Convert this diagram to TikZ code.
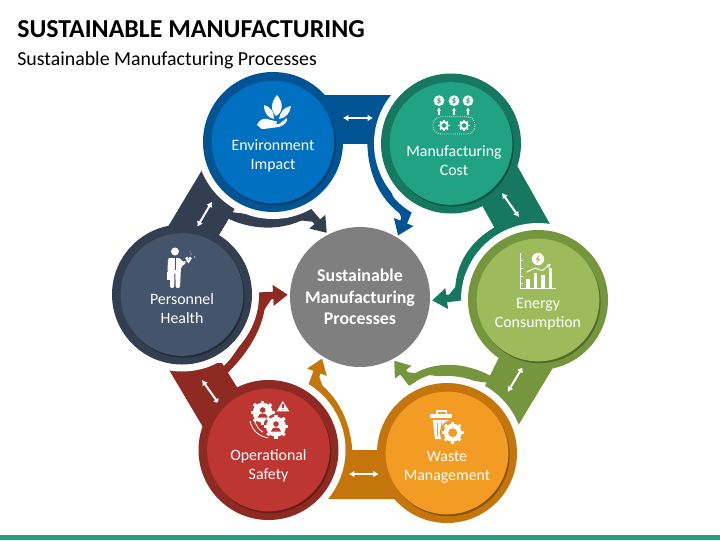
\documentclass[tikz,border=0pt]{standalone}
\usepackage{fontspec}
\setmainfont{Carlito}
\usepackage{xcolor}
\definecolor{blueedge}{HTML}{005493}
\definecolor{bluefill}{HTML}{0070C0}
\definecolor{tealedge}{HTML}{167860}
\definecolor{tealfill}{HTML}{21A383}
\definecolor{oliveedge}{HTML}{76963E}
\definecolor{olivefill}{HTML}{9DBB5B}
\definecolor{amberedge}{HTML}{C4760C}
\definecolor{amberfill}{HTML}{F39C24}
\definecolor{rededge}{HTML}{8F2A22}
\definecolor{redfill}{HTML}{BE3631}
\definecolor{navyedge}{HTML}{333F50}
\definecolor{navyfill}{HTML}{44546A}
\definecolor{hubgray}{HTML}{7F7F7F}
\usetikzlibrary{arrows.meta, shadows}
\newcommand{\gearmark}[4]{%
	\foreach \a in {0,45,...,315}
		\draw[white, line width=#3*.24pt] (#1,#2) -- ++(\a:#3*1.22);
	\fill[white] (#1,#2) circle (#3);
	\fill[#4] (#1,#2) circle (#3*.5);}

\begin{document}
\begin{tikzpicture}[
	x=.75pt, y=-.75pt,
	hub/.style={circle, fill=hubgray, text=white, minimum size=105pt, inner sep=0pt, align=center,
	            font=\fontsize{13.4}{16.2}\selectfont\bfseries},
	rim/.style={circle, minimum size=105pt, inner sep=0pt},
	disc/.style={circle, minimum size=92pt, inner sep=0pt,
	             drop shadow={shadow xshift=1pt, shadow yshift=-1.4pt, fill=black, opacity=.3}},
	tag/.style={text=white, align=center, inner sep=0pt, font=\fontsize{11.9}{14.3}\selectfont},
	halo/.style={fill=white},
	flow/.style={line width=5.6pt, -{Triangle[length=11pt, width=15pt]}, shorten >=1.5pt},
	duplex/.style={{Latex[length=4pt, width=5pt]}-{Latex[length=4pt, width=5pt]}, white, line width=1.5pt}
	]
\useasboundingbox (0,0) rectangle (720,540);

\coordinate (envpt) at (273,142);
\coordinate (manpt) at (451,143.5);
\coordinate (enept) at (538,300);
\coordinate (waspt) at (447,453);
\coordinate (opspt) at (268.5,450);
\coordinate (perpt) at (182,294.5);

\node[anchor=west, inner sep=0pt, font=\fontsize{19.4}{22}\selectfont\bfseries] (heading) at (17,29) {SUSTAINABLE MANUFACTURING};
\node[anchor=west, inner sep=0pt, font=\fontsize{14.9}{16}\selectfont] (subheading) at (17,60) {Sustainable Manufacturing Processes};
\fill[tealfill] (0,535) rectangle (720,540);

\node[hub] (centre) at (360,297) {Sustainable\\Manufacturing\\Processes};

% blue
\fill[blueedge] (318,95) -- (396,95) -- (396,144) -- (318,144) -- cycle;
\coordinate (b1) at (371,140);
\coordinate (b2) at (407,214);
\draw[flow, draw=blueedge, fill=blueedge] (b1) .. controls (371,175) and (385,200) .. (b2) -- (centre.58);
\fill[halo] (manpt) circle (77);
% teal
\fill[tealedge] (478,198) -- (510,153) -- (555,233) -- (499,236) -- cycle;
\coordinate (t1) at (505,226);
\coordinate (t2) at (459,297);
\draw[flow, draw=tealedge, fill=tealedge] (t1) .. controls (475,240) and (457,265) .. (t2) -- (centre.-3);
\fill[halo] (enept) circle (77);
% olive
\fill[oliveedge] (505,345) -- (560,356) -- (513,434) -- (482,392) -- cycle;
\coordinate (o1) at (497,384);
\coordinate (o2) at (410,381);
\draw[flow, draw=oliveedge, fill=oliveedge] (o1) .. controls (470,366) and (435,362) .. (o2) -- (centre.-62);
\fill[halo] (waspt) circle (77);
% amber
\fill[amberedge] (345,450) -- (400,450) -- (400,499) -- (320,499) -- cycle;
\coordinate (a1) at (349,460);
\coordinate (a2) at (313,383);
\draw[flow, draw=amberedge, fill=amberedge] (a1) .. controls (349,425) and (335,398) .. (a2) -- (centre.-122);
\fill[halo] (opspt) circle (77);
% red
\fill[rededge] (165,363) -- (222,363) -- (248,405) -- (210,439) -- cycle;
\coordinate (r1) at (219,376);
\coordinate (r2) at (262,296);
\draw[flow, draw=rededge, fill=rededge] (r1) .. controls (245,352) and (262,325) .. (r2) -- (centre.178);
\fill[halo] (perpt) circle (77);
% navy
\fill[navyedge] (160,240) -- (208,160) -- (240,200) -- (210,250) -- cycle;
\coordinate (n1) at (222,211);
\coordinate (n2) at (309,212);
\draw[flow, draw=navyedge, fill=navyedge] (n1) .. controls (250,228) and (285,228) .. (n2) -- (centre.117);
\fill[halo] (envpt) circle (77);
\fill[blueedge] (318,95) rectangle (355,144);

\coordinate (s1a) at (343,118); \coordinate (s1b) at (373,118);
\coordinate (s2a) at (502,193); \coordinate (s2b) at (519,217);
\coordinate (s3a) at (522.7,367); \coordinate (s3b) at (507.7,392);
\coordinate (s4a) at (349,474); \coordinate (s4b) at (378.7,474);
\coordinate (s5a) at (202,380); \coordinate (s5b) at (219,404);
\coordinate (s6a) at (197.3,226.7); \coordinate (s6b) at (212,201.7);
\draw[duplex] (s1a) -- (s1b);
\draw[duplex] (s2a) -- (s2b);
\draw[duplex] (s3a) -- (s3b);
\draw[duplex] (s4a) -- (s4b);
\draw[duplex] (s5a) -- (s5b);
\draw[duplex] (s6a) -- (s6b);

\node[rim, fill=blueedge] (envrim) at (envpt) {};
\node[disc, fill=bluefill] (envdisc) at (envpt) {};
\node[tag] (envtag) at (273,155.5) {Environment\\Impact};
\node[rim, fill=tealedge] (manrim) at (manpt) {};
\node[disc, fill=tealfill] (mandisc) at (manpt) {};
\node[tag] (mantag) at (454,160.5) {Manufacturing\\Cost};
\node[rim, fill=oliveedge] (enerim) at (enept) {};
\node[disc, fill=olivefill] (enedisc) at (enept) {};
\node[tag] (enetag) at (538,314.5) {Energy\\Consumption};
\node[rim, fill=amberedge] (wasrim) at (waspt) {};
\node[disc, fill=amberfill] (wasdisc) at (waspt) {};
\node[tag] (wastag) at (447,467.5) {Waste\\Management};
\node[rim, fill=rededge] (opsrim) at (opspt) {};
\node[disc, fill=redfill] (opsdisc) at (opspt) {};
\node[tag] (opstag) at (268.5,465.5) {Operational\\Safety};
\node[rim, fill=navyedge] (perrim) at (perpt) {};
\node[disc, fill=navyfill] (perdisc) at (perpt) {};
\node[tag] (pertag) at (182,308.5) {Personnel\\Health};

% environment icon
\fill[white] (277,95) .. controls (270,103) and (271,112) .. (276,116) .. controls (283,112) and (284,103) .. (277,95);
\fill[white] (264,105) .. controls (264,113) and (268,118) .. (274,119) .. controls (274,112) and (271,107) .. (264,105);
\fill[white] (291,106) .. controls (284,107) and (280,112) .. (279,119) .. controls (286,118) and (290,113) .. (291,106);
\fill[white] (257,125) .. controls (259,120) and (263,118) .. (267,119) -- (275,121) .. controls (278,121) and (278,124) .. (274,124) -- (279,124) -- (287,118) .. controls (288,122) and (284,125) .. (279,127) -- (263,129) -- (261,128.5) -- cycle;
% manufacturing icon
\foreach \x in {439,454,468} {
	\fill[white] (\x,100.7) circle (5.4);
	\node[text=tealfill, inner sep=0pt, font=\fontsize{6.5}{7}\selectfont\bfseries] (coin\x) at (\x,100.7) {\$};
	\draw[white, line width=.8pt, -{Latex[length=2.4pt, width=3.4pt]}] (\x,114.5) -- (\x,107.5);
}
\draw[white, densely dotted, line width=.6pt, rounded corners=6pt] (433,116.7) rectangle (475,134);
\gearmark{444}{125.5}{4.6}{tealfill}
\gearmark{464}{125.5}{4.6}{tealfill}
% energy icon
\draw[white, line width=.7pt] (520.7,253) -- (520.7,288) -- (556,288);
\foreach \y in {260,268,276,283}
	\draw[white, line width=.5pt] (520.7,\y) -- (522.5,\y);
\fill[white] (526,279) rectangle (530,288);
\fill[white] (533.5,272.7) rectangle (537.3,288);
\fill[white] (540.7,275) rectangle (544.7,288);
\fill[white] (548.5,268) rectangle (552.3,288);
\draw[white, line width=.7pt, -{Latex[length=3pt, width=3.4pt]}] (527,272) -- (535,268) -- (542,270.5) -- (551,264);
\fill[white] (538,259) circle (6.2);
\fill[olivefill] (539.5,254.5) -- (535.5,259.5) -- (538,259.5) -- (536.5,263.5) -- (540.5,258.5) -- (538,258.5) -- cycle;
% waste icon
\draw[white, line width=.9pt] (437,414) -- (437,411) -- (446.5,411) -- (446.5,414);
\fill[white] (430,414) rectangle (451.7,418.3);
\fill[white] (432.7,420) -- (449,420) -- (446,439) -- (435,439) -- cycle;
\foreach \x in {437,441,445}
	\draw[amberfill, line width=.7pt] (\x,423) -- (\x,436);
\fill[amberfill] (452.7,432.7) circle (13);
\gearmark{452.7}{432.7}{9}{amberfill}
% safety icon
\gearmark{262.7}{412.7}{10}{redfill}
\fill[white] (262.7,412.7) circle (7);
\fill[redfill] (262.7,410) circle (2.8);
\fill[redfill] (257.7,417.5) .. controls (258,412) and (267.4,412) .. (267.7,417.5) -- cycle;
\fill[redfill] (276,426.7) circle (12.6);
\gearmark{276}{426.7}{10}{redfill}
\fill[white] (276,426.7) circle (7);
\fill[redfill] (276,424) circle (2.8);
\fill[redfill] (271,431.5) .. controls (271.3,426) and (280.7,426) .. (281,431.5) -- cycle;
\fill[white] (276.7,411.3) -- (282.7,401) -- (289.3,411.3) -- cycle;
\draw[redfill, line width=.9pt] (282.9,404) -- (282.9,408);
\fill[redfill] (282.9,409.6) circle (.7);
\draw[white, line width=.6pt] (250,421) .. controls (252,430) and (258,436) .. (268,438);
\draw[white, line width=.6pt] (255,422) .. controls (257,427) and (259,430) .. (263,432);
% personnel icon
\fill[white] (175,251.5) circle (4);
\fill[white, rounded corners=1.5pt] (168,258) -- (181,258) -- (182,262) -- (186,260.5) -- (186.5,263) -- (181,266.5) -- (180,288) -- (175.6,288) -- (175.4,272) -- (174.4,272) -- (174.2,288) -- (170,288) -- (170,273) -- (167.5,273) -- cycle;
\draw[navyfill, line width=.7pt] (175,258) -- (175,270);
\fill[white] (167,272) rectangle (170,280);
\fill[white] (187,258.5) circle (1.9);
\fill[white] (190,258.5) circle (1.9);
\fill[white] (186,259.5) -- (188.5,263.5) -- (191,259.5) -- cycle;
\fill[white] (191,254) circle (.6);
\fill[white] (194.5,257) circle (.6);
\fill[white] (190,251) circle (.5);
\end{tikzpicture}
\end{document}
